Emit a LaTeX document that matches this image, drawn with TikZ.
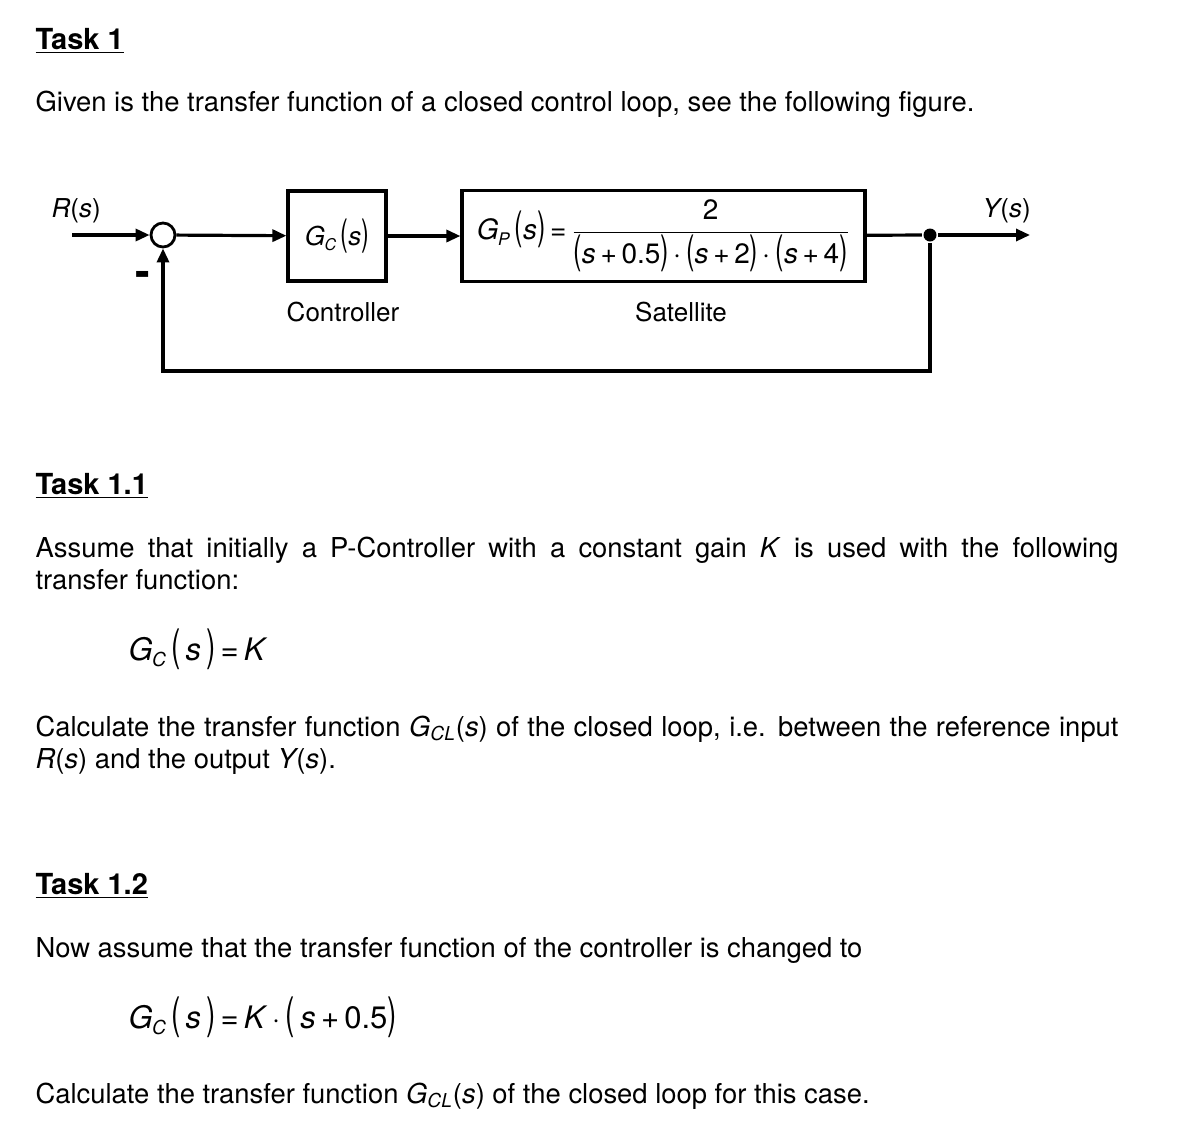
\documentclass[tikz,border=0pt]{standalone}
\usepackage{fontspec}
\setmainfont{TeX Gyre Heros}
\usepackage{graphicx}
\usetikzlibrary{arrows.meta}

% symbols in the Helvetica look
\newcommand{\Gsub}[1]{\textit{G}\kern-0.02em\raisebox{-0.4ex}{\scalebox{0.62}{\textit{#1}}}}
\newcommand{\lpar}{\scalebox{0.9}[1.4]{(}}
\newcommand{\rpar}{\scalebox{0.9}[1.4]{)}}
\newcommand{\cdt}{\,$\cdot$\,}

\tikzset{
  block/.style={draw, line width=1.6pt, inner sep=0pt, font=\fontsize{13}{15}\selectfont},
  sumpt/.style={draw, circle, line width=1.4pt, minimum size=12pt, inner sep=0pt},
  dotpt/.style={circle, fill, minimum size=6.5pt, inner sep=0pt},
  label/.style={anchor=base west, inner sep=0pt, font=\fontsize{13}{15}\selectfont},
  midlabel/.style={anchor=base, inner sep=0pt, font=\fontsize{13}{15}\selectfont},
  heading/.style={anchor=base west, inner sep=0pt, font=\fontsize{14.5}{16}\selectfont\bfseries},
  textline/.style={anchor=base west, inner sep=0pt, font=\fontsize{13.7}{16}\selectfont},
  eqline/.style={anchor=base west, inner sep=0pt, font=\fontsize{15.5}{18}\selectfont},
}

\begin{document}
\begin{tikzpicture}[x=0.5pt, y=-0.5pt, >={Triangle[length=7pt,width=6pt]}, line width=1.6pt]
    \useasboundingbox (0,0) rectangle (1202,1130);

    \node[heading] (t1) at (34,49) {\underline{Task 1}};
    \node[textline] (intro) at (34,111) {Given is the transfer function of a closed control loop, see the following figure.};

    % block diagram
    \coordinate (in) at (72,235);
    \node[sumpt] (sum) at (163,235) {};
    \node[block, minimum width=49pt, minimum height=45pt] (gc) at (337,236) {\Gsub{C}\,\lpar\textit{s}\rpar};
    \node[block, minimum width=201.5pt, minimum height=45.5pt, font=\fontsize{14}{16}\selectfont] (gp) at (663.5,236)
      {\Gsub{P}\,\lpar\textit{s}\rpar\,=\,$\displaystyle\frac{\mbox{2}}{\mbox{\lpar\textit{s}\,+\,0.5\rpar\cdt\lpar\textit{s}\,+\,2\rpar\cdt\lpar\textit{s}\,+\,4\rpar}}$};
    \node[dotpt] (jn) at (930,235) {};
    \coordinate (out) at (1030,235);
    \coordinate (fb) at (545,371);

    \node[label] (rin) at (50,217) {\textit{R}(\textit{s})};
    \node[label] (yout) at (981,217) {\textit{Y}\kern-0.08em(\textit{s})};
    \node[anchor=base, inner sep=0pt, font=\fontsize{22}{22}\selectfont\bfseries] (minus) at (143,286) {-};
    \node[midlabel] (ctrl) at (343,321) {Controller};
    \node[midlabel] (sat) at (681,321) {Satellite};

    \draw[->] (in) -- (sum);
    \draw[->] (sum) -- (gc);
    \draw[->] (gc) -- (gp);
    \draw (gp) -- (jn);
    \draw[->] (jn) -- (out);
    \draw[->] (jn) |- (fb) -| (sum);

    % task 1.1
    \node[heading] (t11) at (34,494) {\underline{Task 1.1}};
    \node[textline] (p1a) at (34,557) {\makebox[541.5pt][s]{Assume that initially a P-Controller with a constant gain \textit{K} is used with the following}};
    \node[textline] (p1b) at (34,589) {transfer function:};
    \node[eqline] (eq1) at (127,660) {\Gsub{C}\,\lpar\,\textit{s}\,\rpar\,=\,\textit{K}};
    \node[textline] (p2a) at (34,736) {\makebox[541.5pt][s]{Calculate the transfer function \textit{G\textsubscript{CL}}(\textit{s}) of the closed loop, i.e. between the reference input}};
    \node[textline] (p2b) at (34,768) {\textit{R}(\textit{s}) and the output \textit{Y}\kern-0.08em(\textit{s}).};

    % task 1.2
    \node[heading] (t12) at (34,894) {\underline{Task 1.2}};
    \node[textline] (p3) at (34,957) {Now assume that the transfer function of the controller is changed to};
    \node[eqline] (eq2) at (127,1028) {\Gsub{C}\,\lpar\,\textit{s}\,\rpar\,=\,\textit{K}\cdt\lpar\,\textit{s}\,+\,0.5\rpar};
    \node[textline] (p4) at (34,1103) {Calculate the transfer function \textit{G\textsubscript{CL}}(\textit{s}) of the closed loop for this case.};
\end{tikzpicture}
\end{document}
